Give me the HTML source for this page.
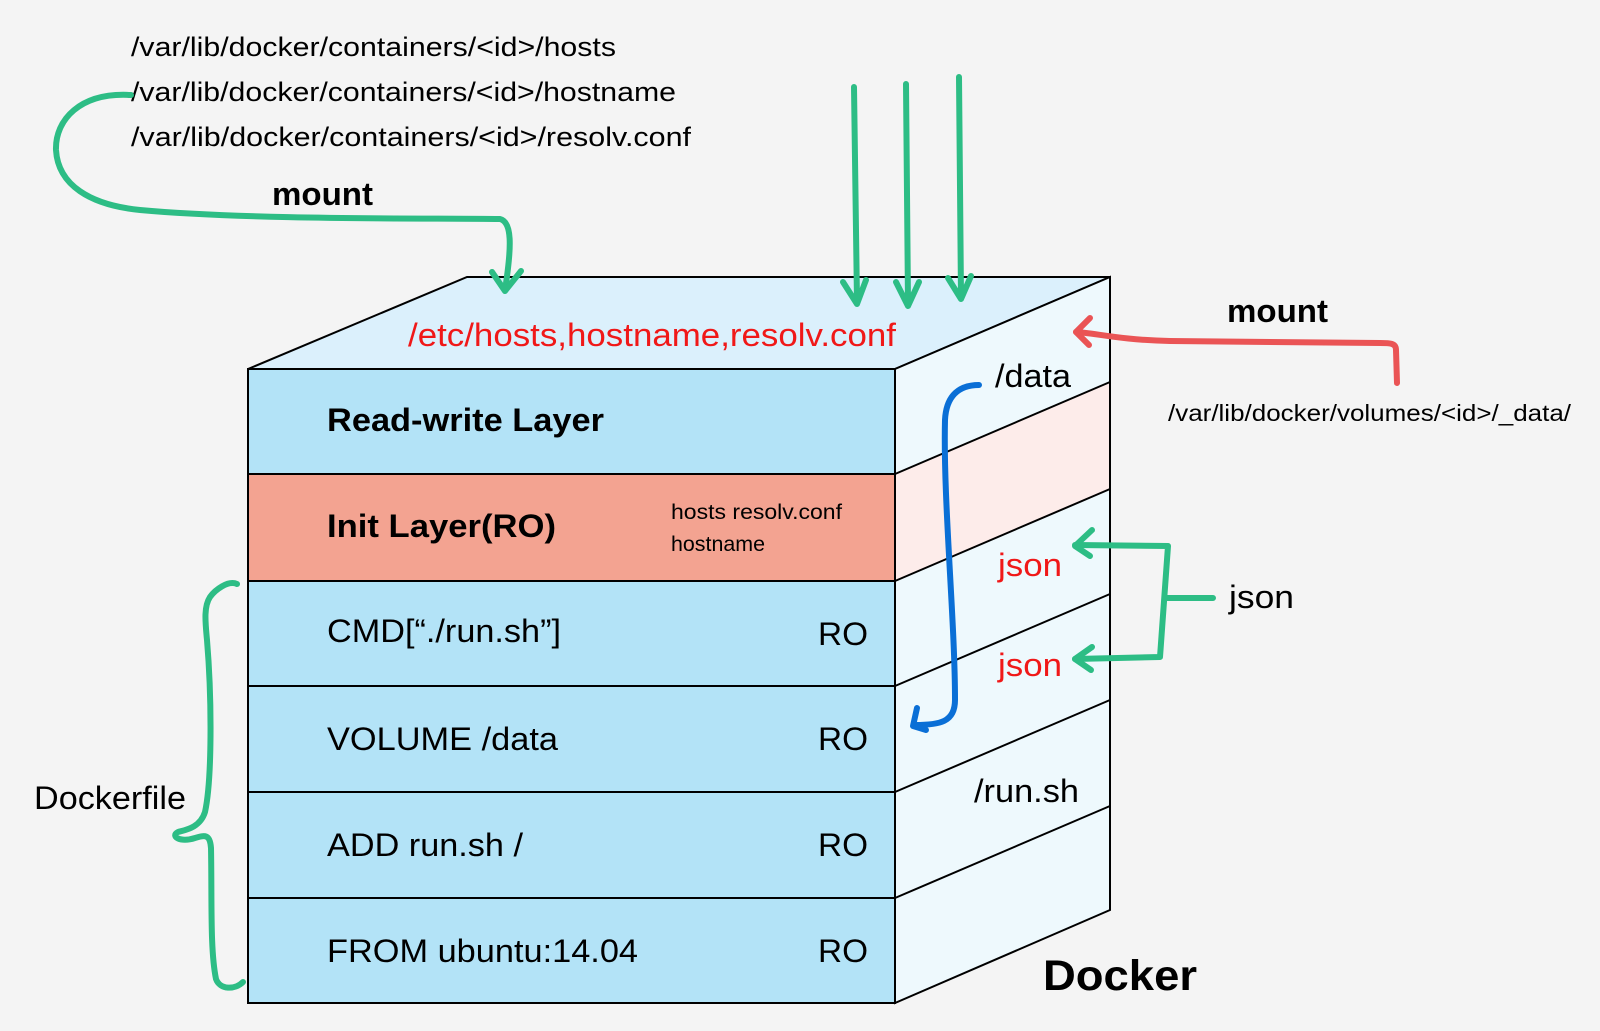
<!DOCTYPE html>
<html><head><meta charset="utf-8"><style>
html,body{margin:0;padding:0;background:#f4f4f4;}
svg{display:block;}
text{font-family:"Liberation Sans",sans-serif;}
</style></head><body>
<svg width="1600" height="1031" viewBox="0 0 1600 1031" xmlns="http://www.w3.org/2000/svg">
<rect width="1600" height="1031" fill="#f4f4f4"/>
<polygon points="248,369 467,277 1110,277 895,369" fill="#dbf0fc" stroke="#000" stroke-width="2"/>
<polygon points="895,369 1110,277 1110,910 895,1003" fill="#eef9fd" stroke="#000" stroke-width="2"/>
<polygon points="895,474 1110,382 1110,489 895,581" fill="#fdecea"/>
<g stroke="#000" stroke-width="2">
<line x1="895" y1="474" x2="1110" y2="382"/>
<line x1="895" y1="581" x2="1110" y2="489"/>
<line x1="895" y1="686" x2="1110" y2="594"/>
<line x1="895" y1="792" x2="1110" y2="700"/>
<line x1="895" y1="898" x2="1110" y2="806"/>
<line x1="1110" y1="277" x2="1110" y2="910"/>
</g>
<rect x="248" y="369" width="647" height="105" fill="#b3e3f7" stroke="#000" stroke-width="2"/>
<rect x="248" y="474" width="647" height="107" fill="#f3a391" stroke="#000" stroke-width="2"/>
<rect x="248" y="581" width="647" height="105" fill="#b3e3f7" stroke="#000" stroke-width="2"/>
<rect x="248" y="686" width="647" height="106" fill="#b3e3f7" stroke="#000" stroke-width="2"/>
<rect x="248" y="792" width="647" height="106" fill="#b3e3f7" stroke="#000" stroke-width="2"/>
<rect x="248" y="898" width="647" height="105" fill="#b3e3f7" stroke="#000" stroke-width="2"/>

<g font-size="27" fill="#000" lengthAdjust="spacingAndGlyphs">
<text x="131" y="56" textLength="485" lengthAdjust="spacingAndGlyphs">/var/lib/docker/containers/&lt;id&gt;/hosts</text>
<text x="131" y="101" textLength="545" lengthAdjust="spacingAndGlyphs">/var/lib/docker/containers/&lt;id&gt;/hostname</text>
<text x="131" y="146" textLength="560" lengthAdjust="spacingAndGlyphs">/var/lib/docker/containers/&lt;id&gt;/resolv.conf</text>
</g>
<text x="272" y="205" font-size="32" font-weight="bold" textLength="101" lengthAdjust="spacingAndGlyphs">mount</text>
<text x="1227" y="322" font-size="32" font-weight="bold" textLength="101" lengthAdjust="spacingAndGlyphs">mount</text>
<text x="1168" y="421" font-size="23" textLength="403" lengthAdjust="spacingAndGlyphs">/var/lib/docker/volumes/&lt;id&gt;/_data/</text>
<text x="408" y="346" font-size="32" fill="#f01818" textLength="488" lengthAdjust="spacingAndGlyphs">/etc/hosts,hostname,resolv.conf</text>
<text x="995" y="387" font-size="32" textLength="76" lengthAdjust="spacingAndGlyphs">/data</text>
<text x="327" y="431" font-size="32" font-weight="bold" textLength="277" lengthAdjust="spacingAndGlyphs">Read-write Layer</text>
<text x="327" y="537" font-size="32" font-weight="bold" textLength="229" lengthAdjust="spacingAndGlyphs">Init Layer(RO)</text>
<text x="671" y="519" font-size="21" textLength="171" lengthAdjust="spacingAndGlyphs">hosts   resolv.conf</text>
<text x="671" y="551" font-size="21" textLength="94" lengthAdjust="spacingAndGlyphs">hostname</text>
<g font-size="32">
<text x="327" y="642" textLength="234" lengthAdjust="spacingAndGlyphs">CMD[“./run.sh”]</text>
<text x="818" y="645" textLength="50" lengthAdjust="spacingAndGlyphs">RO</text>
<text x="327" y="750" textLength="231" lengthAdjust="spacingAndGlyphs">VOLUME /data</text>
<text x="818" y="750" textLength="50" lengthAdjust="spacingAndGlyphs">RO</text>
<text x="327" y="856" textLength="196" lengthAdjust="spacingAndGlyphs">ADD run.sh /</text>
<text x="818" y="856" textLength="50" lengthAdjust="spacingAndGlyphs">RO</text>
<text x="327" y="962" textLength="311" lengthAdjust="spacingAndGlyphs">FROM ubuntu:14.04</text>
<text x="818" y="962" textLength="50" lengthAdjust="spacingAndGlyphs">RO</text>
<text x="974" y="802" textLength="105" lengthAdjust="spacingAndGlyphs">/run.sh</text>
<text x="34" y="809" textLength="152" lengthAdjust="spacingAndGlyphs">Dockerfile</text>
<text x="1229" y="608" textLength="65" lengthAdjust="spacingAndGlyphs">json</text>
</g>
<text x="998" y="576" font-size="32" fill="#f01818" textLength="64" lengthAdjust="spacingAndGlyphs">json</text>
<text x="998" y="676" font-size="32" fill="#f01818" textLength="64" lengthAdjust="spacingAndGlyphs">json</text>
<text x="1043" y="990" font-size="43" font-weight="bold" textLength="154" lengthAdjust="spacingAndGlyphs">Docker</text>

<g fill="none" stroke="#2dbd85" stroke-width="6" stroke-linecap="round" stroke-linejoin="round">
<path d="M131,95 C80,92 55,120 56,150 C58,185 90,205 140,210 C250,220 420,218 500,219 C512,222 512,245 505,290"/>
<path d="M492,272 L505,291 L521,271"/>
<path d="M854,87 L857,302 M843,282 L857,304 L866,280"/>
<path d="M906,84 L908,303 M896,282 L908,306 L919,282"/>
<path d="M959,77 L961,297 M948,278 L961,299 L971,276"/>
<path d="M1213,598 L1166,598 M1168,546 L1075,545 M1168,546 L1160,657 L1075,659"/>
<path d="M1092,530 L1075,546 L1090,556"/>
<path d="M1092,647 L1075,659 L1091,670"/>
<path d="M237,584 C228,580 215,590 210,597 C204,606 205,620 207,640 C212,700 212,780 205,812 C200,828 185,830 178,832 C170,836 180,843 195,838 C205,835 210,834 211,848 C212,900 210,950 216,979 C220,990 235,990 243,982"/>
</g>
<g fill="none" stroke="#ea5455" stroke-width="6" stroke-linecap="round" stroke-linejoin="round">
<path d="M1397,383 L1396,350 C1396,343 1390,343 1380,343 L1170,341 C1120,340 1095,333 1076,332"/>
<path d="M1090,318 L1076,332 L1089,345"/>
</g>
<g fill="none" stroke="#0a6fd6" stroke-width="6" stroke-linecap="round" stroke-linejoin="round">
<path d="M979,385 C955,385 946,400 945,420 C943,500 955,620 955,700 C955,722 940,725 915,725"/>
<path d="M917,708 L913,726 L926,730"/>
</g>
</svg>
</body></html>
